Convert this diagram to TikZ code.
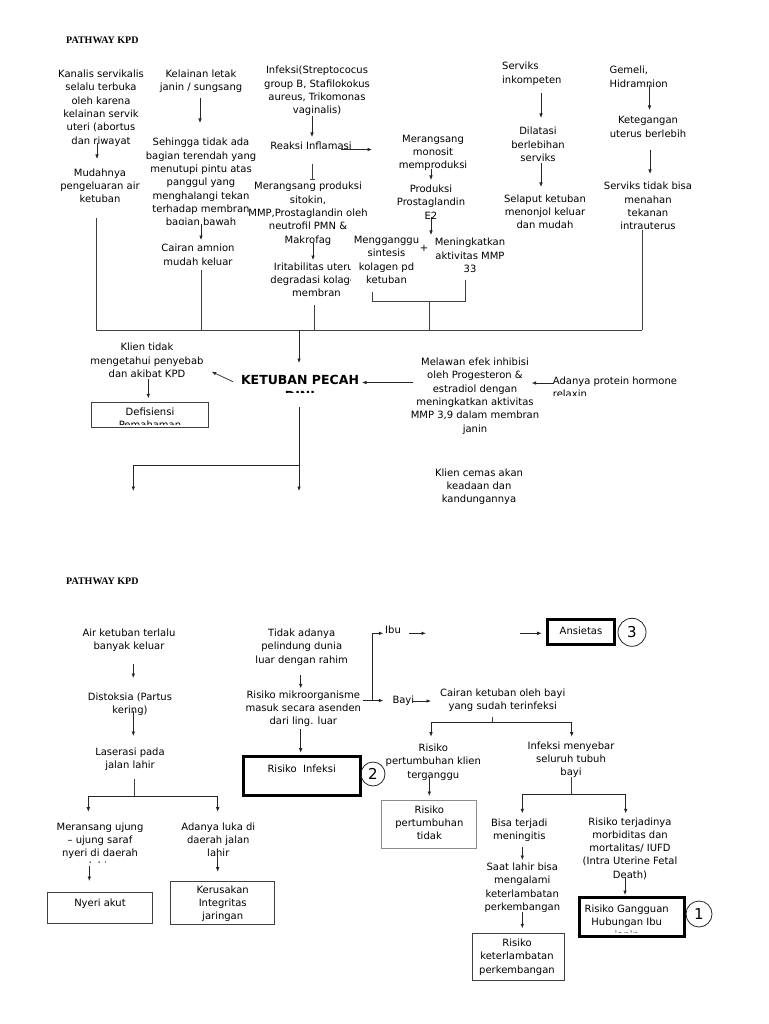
\documentclass[tikz,border=0pt]{standalone}
\usepackage{fontspec}
\setmainfont{DejaVu Sans}
\newfontfamily\titlefont{Liberation Serif}
\usetikzlibrary{arrows.meta}
\begin{document}
\begin{tikzpicture}[x=1pt,y=-1pt,
  txt/.style={align=center,anchor=north,inner sep=0pt,yshift=4.5pt,font=\fontsize{10}{13.3}\selectfont,execute at begin node=\rule{0pt}{9pt}},
  ltxt/.style={txt,align=left,anchor=north west},
  big/.style={align=center,anchor=north,inner sep=0pt,yshift=6.5pt,font=\bfseries\fontsize{12.5}{16}\selectfont,execute at begin node=\rule{0pt}{11pt}},
  arr/.style={draw=black!85,line width=0.7pt,-{Latex[length=4.5pt,width=3.6pt]}},
  ln/.style={draw=black!75,line width=0.7pt},
  box/.style={draw=black!75,line width=0.8pt},
  gbox/.style={draw=black!45,line width=0.8pt},
  tbox/.style={draw=black,line width=3pt},
  circ/.style={circle,draw=black!85,line width=0.8pt,inner sep=0pt,font=\fontsize{15}{15}\selectfont},
  ttl/.style={anchor=west,inner sep=0pt,font=\titlefont\bfseries\fontsize{10}{12}\selectfont}
]
\useasboundingbox[fill=white] (0,0) rectangle (768,1024);

% ---------- coordinates ----------
\foreach \n/\x/\y in {ca1/97/143, ca2/97/159, ca3/96/218, ca4/96/330,
  cb1/200/98, cb2/200/123, cb3/201/224, cb4/201/240, cb5/201/270, cb6/201/330,
  cc1/312/116, cc2/312/137, cc3/341/149.5, cc4/372/149.5, cc5/312/164, cc6/312/180,
  cc7/313/243, cc8/313/260, cc9/314/305, cc10/314/330,
  cd1/431/169, cd2/431/180, cd3/431/217, cd4/431/235,
  cd5/372.7/292, cd6/372.7/301, cd7/465.5/301, cd8/465.5/280, cd9/429.5/301, cd10/429.5/330,
  ce1/541/93, ce2/541/118, ce3/541/163, ce4/541/187,
  cf1/649.5/85, cf2/649.5/110, cf3/650/150, cf4/650/174, cf5/642/230, cf6/642/330,
  ck1/299/330, ck2/299/363, cm1/413/382.5, cm2/362/382.5,
  ck3/233/381.7, ck4/211.7/371.7, cl1/148.3/379, cl2/148.3/398.3,
  ck5/299/406.7, ck6/299/465, ck7/299/491, ck8/133.3/465, ck9/133.3/491,
  cm3/552.7/383, cm4/531.7/383,
  cp1/133.3/664, cp2/133.3/678, cp3/133.3/711, cp4/133.3/736, cp5/134/779, cp6/134/796,
  cp7/88.3/796, cp8/88.3/811.7, cp9/217.7/796, cp10/217.7/811.7,
  cp11/89.3/866, cp12/89.3/881, cp13/217.7/852.7, cp14/217.7/871.7,
  cq1/300.7/675, cq2/300.7/688.3, cq3/300.7/729.3, cq4/300.7/752.7,
  cq5/363/700.5, cq6/372.5/700.5, cq7/383.3/700.5, cq8/372.5/633.3, cq9/383.3/633.3,
  cu1/409.3/633.3, cu2/426/633.3, cu3/520/633.3, cu4/541.7/633.3,
  cr1/413.3/701, cr2/431/701,
  cr3/492.7/716.7, cr4/492.7/722.7, cr5/431/722.7, cr6/431/736.7, cr7/571.7/722.7, cr8/571.7/736.7,
  cr9/429.3/777, cr10/429.3/796,
  cr11/571/777, cr12/571/794, cr13/522.3/794, cr14/522.3/813.3, cr15/625.7/794, cr16/625.7/813.3,
  cr17/522.3/846.7, cr18/522.3/860, cr19/522.3/911.7, cr20/522.3/928.3,
  cr21/625/876.7, cr22/625/895}
  \coordinate (\n) at (\x,\y);

% ---------- top pathway ----------
\node[ttl] (t1) at (66,40) {PATHWAY KPD};

\node[txt] (A1) at (101,74.3) {Kanalis servikalis\\selalu terbuka\\oleh karena\\kelainan servik\\uteri (abortus\\dan riwayat};
\node[txt] (A2) at (100,173) {Mudahnya\\pengeluaran air\\ketuban};

\node[txt] (B1) at (201,74) {Kelainan letak\\janin / sungsang};
\begin{scope}
  \clip (130,128) rectangle (270,224.5);
  \node[txt] (B2) at (201,142.7) {Sehingga tidak ada\\bagian terendah yang\\menutupi pintu atas\\panggul yang\\menghalangi tekan\\terhadap membran\\bagian bawah};
\end{scope}
\node[txt] (B3) at (198,248.5) {Cairan amnion\\mudah keluar};

\begin{scope}
  \clip (240,55) rectangle (400,115.5);
  \node[txt] (C1) at (317,70.7) {Infeksi(Streptococus\\group B, Stafilokokus\\aureus, Trikomonas\\vaginalis)};
\end{scope}
\node[txt] (C2) at (311,145) {Reaksi Inflamasi};
\begin{scope}
  \clip (230,175) rectangle (390,244);
  \node[txt] (C3) at (308,186.7) {Merangsang produksi\\sitokin,\\MMP,Prostaglandin oleh\\neutrofil PMN \&\\Makrofag};
\end{scope}
\begin{scope}
  \clip (250,255) rectangle (350.5,310);
  \node[txt] (C4) at (316.5,267) {Iritabilitas uterus\\degradasi kolagen\\membran};
\end{scope}

\node[txt] (D1) at (433,139.3) {Merangsang\\monosit\\memproduksi};
\node[txt] (D2) at (431,189.3) {Produksi\\Prostaglandin\\E2};
\node[txt] (plus) at (424,247) {+};
\node[txt] (D3) at (386.5,240.7) {Mengganggu\\sintesis\\kolagen pd\\ketuban};
\node[txt] (D4) at (470,242.7) {Meningkatkan\\aktivitas MMP\\33};

\node[ltxt] (E1) at (502,66.7) {Serviks\\inkompeten};
\node[txt] (E2) at (538,131.7) {Dilatasi\\berlebihan\\serviks};
\node[txt] (E3) at (545,199) {Selaput ketuban\\menonjol keluar\\dan mudah};

\begin{scope}
  \clip (600,55) rectangle (700,87.5);
  \node[ltxt] (F1) at (609.3,70.7) {Gemeli,\\Hidramnion};
\end{scope}
\node[txt] (F2) at (648,121) {Ketegangan\\uterus berlebih};
\node[txt] (F3) at (648,186.7) {Serviks tidak bisa\\menahan\\tekanan\\intrauterus};

\begin{scope}
  \clip (220,370) rectangle (380,392.5);
  \node[big] (K) at (300,381.7) {KETUBAN PECAH\\DINI};
\end{scope}

\node[txt] (L1) at (147,347.7) {Klien tidak\\mengetahui penyebab\\dan akibat KPD};
\draw[box] (91.7,402.7) rectangle (208.3,427.5);
\begin{scope}
  \clip (92,403) rectangle (208,424);
  \node[txt] (L2) at (150,412.3) {Defisiensi\\Pemahaman};
\end{scope}

\node[txt] (M1) at (475,362.3) {Melawan efek inhibisi\\oleh Progesteron \&\\estradiol dengan\\meningkatkan aktivitas\\MMP 3,9 dalam membran\\janin};
\begin{scope}
  \clip (545,370) rectangle (700,395);
  \node[ltxt] (M2) at (552.7,380.7) {Adanya protein hormone\\relaxin};
\end{scope}
\node[txt] (N) at (479,472.7) {Klien cemas akan\\keadaan dan\\kandungannya};

% top connectors
\draw[arr] (ca1) -- (ca2);
\draw[ln] (ca3) -- (ca4);
\draw[arr] (cb1) -- (cb2);
\draw[arr] (cb3) -- (cb4);
\draw[ln] (cb5) -- (cb6);
\draw[arr] (cc1) -- (cc2);
\draw[arr] (cc3) -- (cc4);
\draw[ln,-{Bar[width=5pt]}] (cc5) -- (cc6);
\draw[arr] (cc7) -- (cc8);
\draw[ln] (cc9) -- (cc10);
\draw[arr] (cd1) -- (cd2);
\draw[arr] (cd3) -- (cd4);
\draw[ln] (cd5) -- (cd6) -- (cd7) -- (cd8);
\draw[ln] (cd9) -- (cd10);
\draw[arr] (ce1) -- (ce2);
\draw[arr] (ce3) -- (ce4);
\draw[arr] (cf1) -- (cf2);
\draw[arr] (cf3) -- (cf4);
\draw[ln] (cf5) -- (cf6);
\draw[ln] (ca4) -- (cf6);
\draw[arr] (ck1) -- (ck2);
\draw[arr] (cm1) -- (cm2);
\draw[arr] (ck3) -- (ck4);
\draw[arr] (cl1) -- (cl2);
\draw[arr] (ck5) -- (ck7);
\draw[arr] (ck6) -- (ck8) -- (ck9);
\draw[arr] (cm3) -- (cm4);

% ---------- bottom pathway ----------
\node[ttl] (t2) at (66,581) {PATHWAY KPD};

\node[txt] (P1) at (129,633.3) {Air ketuban terlalu\\banyak keluar};
\node[txt] (P2) at (130,696.7) {Distoksia (Partus\\kering)};
\node[txt] (P3) at (130,751.7) {Laserasi pada\\jalan lahir};
\begin{scope}
  \clip (30,815) rectangle (180,862.5);
  \node[txt] (P4) at (100,826.7) {Meransang ujung\\– ujung saraf\\nyeri di daerah\\lahir};
\end{scope}
\draw[box] (47.7,892.3) rectangle (152.3,923.3);
\node[txt] (P5) at (100,901.7) {Nyeri akut};
\node[txt] (P6) at (218.3,826.7) {Adanya luka di\\daerah jalan\\lahir};
\draw[box] (170,881) rectangle (274.3,924.3);
\node[txt] (P7) at (222.7,890) {Kerusakan\\Integritas\\jaringan};

\node[txt] (Q1) at (301.7,633.3) {Tidak adanya\\pelindung dunia\\luar dengan rahim};
\node[txt] (Q2) at (303.3,695) {Risiko mikroorganisme\\masuk secara asenden\\dari ling. luar};
\draw[tbox] (243.2,756.5) rectangle (360.2,795.2);
\node[txt] (Q3) at (301.7,767.3) {Risiko~~Infeksi};
\node[circ,minimum size=24pt] (c2) at (373,774) {2};

\node[ltxt] (ibu) at (385,628.3) {Ibu};
\draw[tbox] (547.5,619.8) rectangle (614.5,644.5);
\node[txt] (ans) at (581,630) {Ansietas};
\node[circ,minimum size=28pt] (c3) at (632,632.3) {3};

\node[ltxt] (bayi) at (392.3,698.3) {Bayi};
\node[txt] (R1) at (502.7,692.7) {Cairan ketuban oleh bayi\\yang sudah terinfeksi};
\node[txt] (R2) at (433.3,748.3) {Risiko\\pertumbuhan klien\\terganggu};
\draw[gbox] (381.7,800.7) rectangle (476,848.3);
\node[txt] (R3) at (429.3,810) {Risiko\\pertumbuhan\\tidak};
\node[txt] (R4) at (571,745.7) {Infeksi menyebar\\seluruh tubuh\\bayi};
\node[txt] (R5) at (519.3,823.3) {Bisa terjadi\\meningitis};
\node[txt] (R6) at (522.3,867.3) {Saat lahir bisa\\mengalami\\keterlambatan\\perkembangan};
\draw[box] (472.3,933.3) rectangle (564,980.7);
\node[txt] (R7) at (517,943.3) {Risiko\\keterlambatan\\perkembangan};
\node[txt] (R8) at (630,821.7) {Risiko terjadinya\\morbiditas dan\\mortalitas/ IUFD\\(Intra Uterine Fetal\\Death)};
\draw[tbox] (579.2,897.2) rectangle (684.5,936.8);
\begin{scope}
  \clip (581,899) rectangle (683,932.5);
  \node[txt] (R9) at (626.7,909) {Risiko Gangguan\\Hubungan Ibu\\janin};
\end{scope}
\node[circ,minimum size=26pt] (c1) at (699,914) {1};

% bottom connectors
\draw[arr] (cp1) -- (cp2);
\draw[arr] (cp3) -- (cp4);
\draw[ln] (cp5) -- (cp6);
\draw[arr] (cp6) -- (cp7) -- (cp8);
\draw[arr] (cp6) -- (cp9) -- (cp10);
\draw[arr] (cp11) -- (cp12);
\draw[arr] (cp13) -- (cp14);
\draw[arr] (cq1) -- (cq2);
\draw[arr] (cq3) -- (cq4);
\draw[arr] (cq5) -- (cq7);
\draw[arr] (cq6) -- (cq8) -- (cq9);
\draw[arr] (cu1) -- (cu2);
\draw[arr] (cu3) -- (cu4);
\draw[arr] (cr1) -- (cr2);
\draw[ln] (cr3) -- (cr4);
\draw[arr] (cr4) -- (cr5) -- (cr6);
\draw[arr] (cr4) -- (cr7) -- (cr8);
\draw[arr] (cr9) -- (cr10);
\draw[ln] (cr11) -- (cr12);
\draw[arr] (cr12) -- (cr13) -- (cr14);
\draw[arr] (cr12) -- (cr15) -- (cr16);
\draw[arr] (cr17) -- (cr18);
\draw[arr] (cr19) -- (cr20);
\draw[arr] (cr21) -- (cr22);
\end{tikzpicture}
\end{document}
